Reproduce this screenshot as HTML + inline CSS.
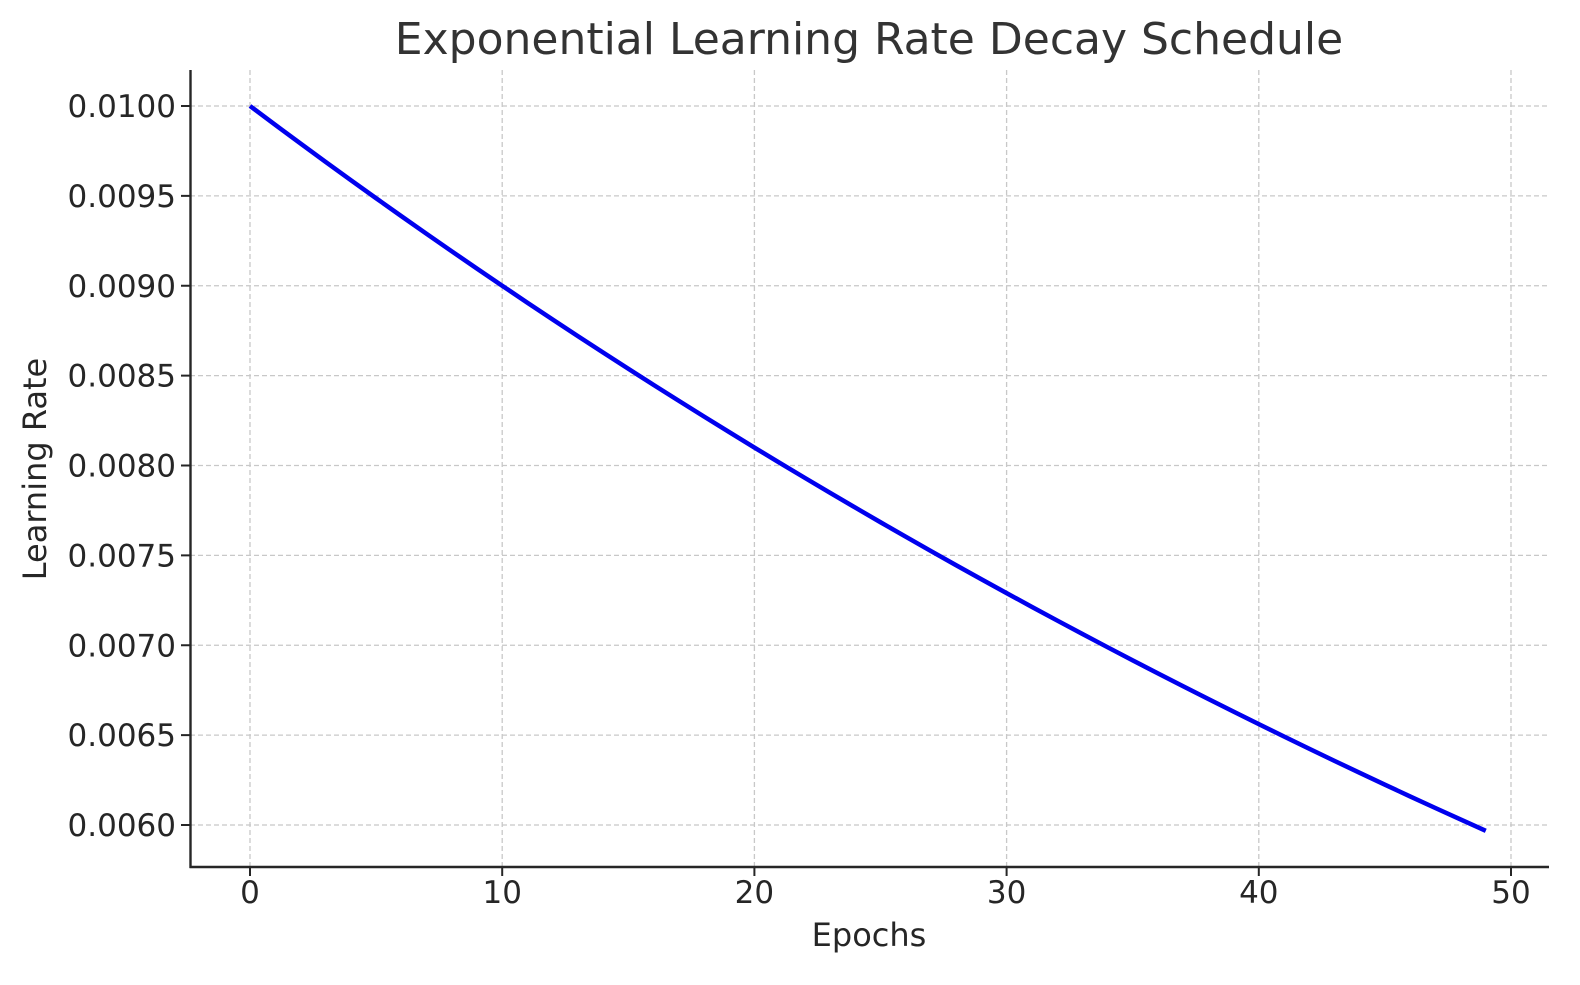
<!DOCTYPE html>
<html><head><meta charset="utf-8"><style>
body{margin:0;background:#fff}
svg text{font-family:"DejaVu Sans","Liberation Sans",sans-serif;fill:#262626}
</style></head><body>
<svg id="chart" width="1580" height="980" xmlns="http://www.w3.org/2000/svg">
<text x="869" y="54" font-size="44" text-anchor="middle" style="fill:#333">Exponential Learning Rate Decay Schedule</text>
<g id="grid"></g>
<g id="ticks"></g>
<path id="line" fill="none" stroke="#0000ee" stroke-width="4.5" stroke-linejoin="round"/>
<line x1="190.5" y1="70" x2="190.5" y2="868" stroke="#262626" stroke-width="2.4"/>
<line x1="189.5" y1="867" x2="1549" y2="867" stroke="#262626" stroke-width="2.4"/>
<text x="869" y="946" font-size="32" text-anchor="middle">Epochs</text>
<text transform="translate(46,469) rotate(-90)" font-size="32" text-anchor="middle">Learning Rate</text>
</svg>
<script>
const epochs=[0,1,2,3,4,5,6,7,8,9,10,11,12,13,14,15,16,17,18,19,20,21,22,23,24,25,26,27,28,29,30,31,32,33,34,35,36,37,38,39,40,41,42,43,44,45,46,47,48,49];
const lrValues=[0.0100000,0.0098952,0.0097915,0.0096889,0.0095873,0.0094868,0.0093874,0.0092890,0.0091917,0.0090953,0.0090000,0.0089057,0.0088123,0.0087200,0.0086286,0.0085381,0.0084486,0.0083601,0.0082725,0.0081858,0.0081000,0.0080151,0.0079311,0.0078480,0.0077657,0.0076843,0.0076038,0.0075241,0.0074452,0.0073672,0.0072900,0.0072136,0.0071380,0.0070632,0.0069892,0.0069159,0.0068434,0.0067717,0.0067007,0.0066305,0.0065610,0.0064922,0.0064242,0.0063569,0.0062902,0.0062243,0.0061591,0.0060945,0.0060307,0.0059675];
const xTicks=[0,10,20,30,40,50];
const yTicks=[0.0060,0.0065,0.0070,0.0075,0.0080,0.0085,0.0090,0.0095,0.0100];
const yTickLabels=["0.0060","0.0065","0.0070","0.0075","0.0080","0.0085","0.0090","0.0095","0.0100"];
const X=v=>250+v*(1511-250)/50;
const Y=v=>825-(v-0.006)*(825-106)/0.004;
const ns="http://www.w3.org/2000/svg";
const grid=document.getElementById('grid'),ticks=document.getElementById('ticks');
function mk(tag,attrs,parent){const e=document.createElementNS(ns,tag);for(const k in attrs)e.setAttribute(k,attrs[k]);parent.appendChild(e);return e;}
xTicks.forEach(t=>{
  const x=X(t);
  const g=mk('line',{x1:x,y1:70,x2:x,y2:867,stroke:'#c8c8c8','stroke-width':1.3,'stroke-dasharray':'5,3'},grid);
  
  
  const tk=mk('line',{x1:x,y1:867,x2:x,y2:876,stroke:'#262626','stroke-width':2},ticks);
  
  
  const tx=mk('text',{x:x,y:903,'font-size':31,'text-anchor':'middle'},ticks);
  tx.textContent=t;
  
  
});
yTicks.forEach((t,i)=>{
  const y=Y(t);
  const g=mk('line',{x1:190,y1:y,x2:1549,y2:y,stroke:'#c8c8c8','stroke-width':1.3,'stroke-dasharray':'5,3'},grid);
  
  
  const tk=mk('line',{x1:181,y1:y,x2:190,y2:y,stroke:'#262626','stroke-width':2},ticks);
  
  
  const tx=mk('text',{x:176,y:y+11,'font-size':31,'text-anchor':'end'},ticks);
  tx.textContent=yTickLabels[i];
  
  
});
document.getElementById('line').setAttribute('d',epochs.map((e,i)=>(i?'L':'M')+X(e).toFixed(2)+','+Y(lrValues[i]).toFixed(2)).join(''));
</script>
</body></html>
